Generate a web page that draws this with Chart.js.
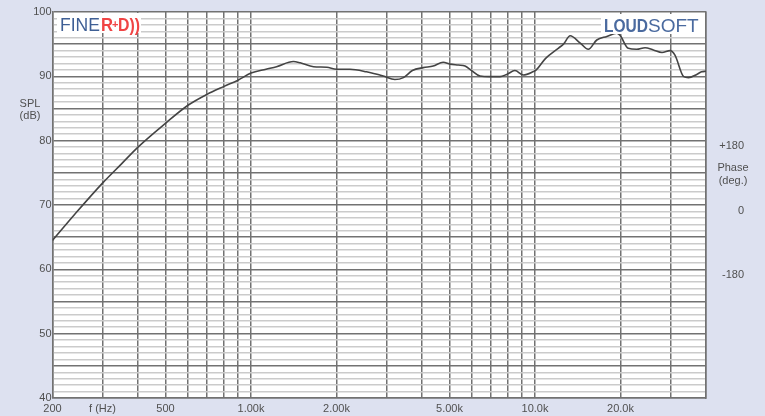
<!DOCTYPE html>
<html>
<head>
<meta charset="utf-8">
<script src="https://cdn.jsdelivr.net/npm/chart.js@4/dist/chart.umd.min.js"></script>
<style>
  html, body { margin: 0; padding: 0; background: #dde1f0; }
  #wrap { width: 765px; height: 416px; position: relative; }
</style>
</head>
<body>
<div id="wrap"><canvas id="splChart"></canvas></div>
<script>
// Frequência (Hz) e nível SPL (dB)
const freqs = [200, 240, 300, 350, 400, 500, 600, 700, 800, 900, 1000, 1130, 1230, 1410, 1490,
    1660, 1850, 2000, 2230, 2550, 2920, 3210, 3440, 3700, 4040, 4380, 4750, 5020, 5370, 5670,
    5980, 6400, 6940, 7530, 7950, 8500, 9100, 9830, 10100, 10900, 12100, 12600, 13300, 14400,
    15400, 16500, 17900, 19400, 19900, 21300, 22800, 24400, 26100, 28000, 29900, 31100, 33400,
    34700, 37100, 38600, 40000];
const spl = [64.5, 68.6, 73.4, 76.4, 79.0, 82.7, 85.5, 87.2, 88.4, 89.4, 90.5, 91.1, 91.5, 92.3, 92.1,
    91.5, 91.4, 91.1, 91.1, 90.7, 90.05, 89.5, 89.8, 90.9, 91.35, 91.6, 92.2, 91.9, 91.75, 91.6,
    90.9, 90.05, 89.95, 89.95, 90.3, 90.9, 90.2, 90.7, 91.0, 92.8, 94.4, 95.0, 96.3, 95.2,
    94.2, 95.65, 96.2, 96.7, 96.4, 94.35, 94.2, 94.45, 94.1, 93.7, 94.0, 93.3, 89.95,
    89.8, 90.3, 90.7, 90.8];

// Linhas verticais da grade (1..9 por década) e rótulos do eixo x
const xGrid = [200, 300, 400, 500, 600, 700, 800, 900,
    1000, 2000, 3000, 4000, 5000, 6000, 7000, 8000, 9000,
    10000, 20000, 30000, 40000];
const xLabels = { 200: '200', 300: 'f (Hz)', 500: '500', 1000: '1.00k', 2000: '2.00k',
    5000: '5.00k', 10000: '10.0k', 20000: '20.0k' };
const phaseTicks = [-180, 0, 180];

const FONT = 'Liberation Sans, Arial, sans-serif';
const TXT = '#505050';
const DARK = '#727272';
const LIGHT = '#cbcbcb';

// Fundo branco da área do gráfico + textos extras e logotipos
const extras = {
    id: 'extras',
    beforeDraw(chart) {
        const { ctx, chartArea: a } = chart;
        ctx.save();
        ctx.fillStyle = '#ffffff';
        ctx.fillRect(a.left, a.top, a.right - a.left, a.bottom - a.top);
        ctx.restore();
    },
    afterDraw(chart) {
        const { ctx } = chart;
        ctx.save();
        ctx.fillStyle = TXT;
        ctx.font = '11px ' + FONT;
        ctx.textAlign = 'center';
        ctx.textBaseline = 'middle';
        ctx.fillText('SPL', 30, 104);
        ctx.fillText('(dB)', 30, 116);
        ctx.fillText('Phase', 733, 168);
        ctx.fillText('(deg.)', 733, 181);

        // FINE R+D))
        ctx.fillStyle = '#ffffff';
        ctx.fillRect(57, 13, 84, 20);
        ctx.textAlign = 'left';
        ctx.textBaseline = 'alphabetic';
        ctx.font = '19px ' + FONT;
        ctx.fillStyle = '#3f5f95';
        ctx.fillText('FINE', 60, 31, 40);
        ctx.fillStyle = '#f04444';
        ctx.font = 'bold 19px ' + FONT;
        ctx.fillText('R', 101, 31, 12);
        ctx.font = 'bold 11px ' + FONT;
        ctx.fillText('+', 112, 28, 7);
        ctx.font = 'bold 19px ' + FONT;
        ctx.fillText('D))', 118, 31, 22);

        // LOUDSOFT
        ctx.fillStyle = '#ffffff';
        ctx.fillRect(601, 14, 104, 20);
        ctx.fillStyle = '#4a6a9f';
        ctx.font = 'bold 19px ' + FONT;
        ctx.fillText('LOUD', 604, 32, 44);
        ctx.font = '19px ' + FONT;
        ctx.fillText('SOFT', 648, 32, 53);
        ctx.restore();
    }
};

new Chart(document.getElementById('splChart'), {
    type: 'line',
    data: {
        datasets: [{
            label: 'SPL',
            data: freqs.map((f, i) => ({ x: f, y: spl[i] })),
            borderColor: '#444444',
            borderWidth: 1.6,
            pointRadius: 0,
            fill: false,
            cubicInterpolationMode: 'monotone',
            yAxisID: 'y'
        }]
    },
    options: {
        responsive: true,
        maintainAspectRatio: false,
        animation: false,
        layout: { padding: { top: 12, right: 21, bottom: 0, left: 0 } },
        plugins: { legend: { display: false }, tooltip: { enabled: false } },
        scales: {
            x: {
                type: 'logarithmic',
                min: 200,
                max: 40000,
                afterBuildTicks: s => { s.ticks = xGrid.map(v => ({ value: v })); },
                afterFit: s => { s.height = 18; },
                ticks: {
                    autoSkip: false,
                    maxRotation: 0,
                    padding: 4,
                    color: TXT,
                    font: { family: FONT, size: 11 },
                    callback: v => xLabels[v] || ''
                },
                grid: { color: DARK, lineWidth: 1.5, drawTicks: false },
                border: { color: DARK, width: 1.5 }
            },
            y: {
                position: 'left',
                min: 40,
                max: 100,
                afterFit: s => { s.width = 52.5; },
                ticks: {
                    stepSize: 1,
                    autoSkip: false,
                    padding: 1,
                    color: TXT,
                    font: { family: FONT, size: 11 },
                    callback: v => (v % 10 === 0 ? v : '')
                },
                grid: {
                    drawTicks: false,
                    lineWidth: 1.5,
                    color: c => (c.tick.value % 5 === 0 ? DARK : LIGHT)
                },
                border: { color: DARK, width: 1.5 }
            },
            phase: {
                position: 'right',
                min: -521,
                max: 553,
                afterBuildTicks: s => { s.ticks = phaseTicks.map(v => ({ value: v })); },
                afterFit: s => { s.width = 38; },
                ticks: {
                    crossAlign: 'far',
                    color: TXT,
                    font: { family: FONT, size: 11 },
                    callback: v => (v > 0 ? '+' + v : '' + v)
                },
                grid: { display: false, drawTicks: false },
                border: { color: DARK, width: 1.5 }
            }
        }
    },
    plugins: [extras]
});
</script>
</body>
</html>
